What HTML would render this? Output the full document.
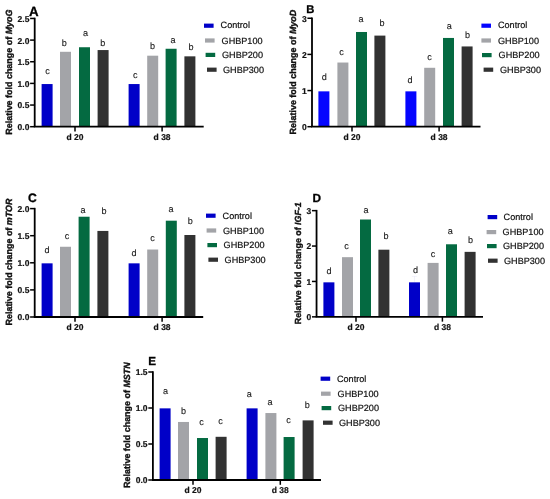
<!DOCTYPE html>
<html lang="en"><head><meta charset="utf-8"><title>Relative fold change of MyoG, MyoD, mTOR, IGF-1 and MSTN</title>
<style>html,body{margin:0;padding:0;background:#fff}body{width:550px;height:499px;overflow:hidden}svg{display:block}</style>
</head><body>
<svg width="550" height="499" viewBox="0 0 550 499" font-family="'Liberation Sans', Arial, sans-serif" text-rendering="geometricPrecision">
<rect width="550" height="499" fill="#fff"/>
<defs><filter id="soft" x="0" y="0" width="100%" height="100%" filterUnits="userSpaceOnUse" color-interpolation-filters="sRGB"><feGaussianBlur stdDeviation="0.35"/></filter></defs>
<g filter="url(#soft)">
<rect width="550" height="499" fill="#fff"/>
<g id="panel-A">
<rect x="41.60" y="84.05" width="11" height="42.65" fill="#0000c8"/>
<rect x="60.00" y="51.79" width="11" height="74.91" fill="#a3a4a8"/>
<rect x="79.00" y="47.24" width="11" height="79.46" fill="#046a41"/>
<rect x="97.60" y="50.06" width="11" height="76.64" fill="#323232"/>
<rect x="128.60" y="84.05" width="11" height="42.65" fill="#0000c8"/>
<rect x="147.20" y="55.69" width="11" height="71.01" fill="#a3a4a8"/>
<rect x="165.60" y="48.76" width="11" height="77.94" fill="#046a41"/>
<rect x="184.40" y="56.34" width="11" height="70.36" fill="#323232"/>
<g stroke="#000" stroke-width="1.8" fill="none" stroke-linecap="butt">
<path d="M34.70 17.70V126.70"/>
<path d="M33.80 126.70H203.70"/>
<path stroke-width="1.5" d="M30.10 126.70H34.70"/>
<path stroke-width="1.5" d="M30.10 105.05H34.70"/>
<path stroke-width="1.5" d="M30.10 83.40H34.70"/>
<path stroke-width="1.5" d="M30.10 61.75H34.70"/>
<path stroke-width="1.5" d="M30.10 40.10H34.70"/>
<path stroke-width="1.5" d="M30.10 18.45H34.70"/>
<path stroke-width="1.5" d="M75.00 126.70V131.50"/>
<path stroke-width="1.5" d="M162.10 126.70V131.50"/>
</g>
<g font-size="8.5" font-weight="bold" fill="#111" stroke="#111" stroke-width="0.2">
<text x="29.40" y="130.10" text-anchor="end">0.0</text>
<text x="29.40" y="108.45" text-anchor="end">0.5</text>
<text x="29.40" y="86.80" text-anchor="end">1.0</text>
<text x="29.40" y="65.15" text-anchor="end">1.5</text>
<text x="29.40" y="43.50" text-anchor="end">2.0</text>
<text x="29.40" y="21.85" text-anchor="end">2.5</text>
<text x="75.00" y="139.60" text-anchor="middle">d 20</text>
<text x="162.10" y="139.60" text-anchor="middle">d 38</text>
</g>
<text transform="translate(11.60 134.70) rotate(-90)" font-size="8.95" font-weight="bold" fill="#111" stroke="#111" stroke-width="0.4">Relative fold change of <tspan font-style="italic">MyoG</tspan></text>
<text x="29.00" y="15.80" font-size="13.3" font-weight="bold" fill="#000" stroke="#000" stroke-width="0.3">A</text>
<g font-size="9.1" fill="#1c1c1c" stroke="#1c1c1c" stroke-width="0.12" text-anchor="middle">
<text x="47.40" y="74.00">c</text>
<text x="64.40" y="45.60">b</text>
<text x="85.60" y="36.00">a</text>
<text x="102.80" y="45.60">b</text>
<text x="135.20" y="77.60">c</text>
<text x="152.60" y="49.20">b</text>
<text x="173.00" y="43.00">a</text>
<text x="191.00" y="50.00">b</text>
</g>
<g font-size="9.1" fill="#111" stroke="#111" stroke-width="0.2">
<rect x="204.00" y="23.60" width="9.6" height="4.2" fill="#0000c8" stroke="none"/>
<text x="220.60" y="28.40">Control</text>
<rect x="205.00" y="38.40" width="9.6" height="4.2" fill="#a3a4a8" stroke="none"/>
<text x="221.60" y="43.60">GHBP100</text>
<rect x="205.60" y="52.80" width="9.6" height="4.2" fill="#046a41" stroke="none"/>
<text x="222.00" y="58.30">GHBP200</text>
<rect x="207.00" y="67.60" width="9.6" height="4.2" fill="#323232" stroke="none"/>
<text x="223.00" y="72.90">GHBP300</text>
</g>
</g>
<g id="panel-B">
<rect x="318.40" y="91.35" width="11" height="35.35" fill="#0505ff"/>
<rect x="337.40" y="62.53" width="11" height="64.17" fill="#a3a4a8"/>
<rect x="356.00" y="31.99" width="11" height="94.71" fill="#046a41"/>
<rect x="374.40" y="35.60" width="11" height="91.10" fill="#323232"/>
<rect x="405.40" y="91.35" width="11" height="35.35" fill="#0505ff"/>
<rect x="424.20" y="67.78" width="11" height="58.92" fill="#a3a4a8"/>
<rect x="443.00" y="37.95" width="11" height="88.75" fill="#046a41"/>
<rect x="461.60" y="46.45" width="11" height="80.25" fill="#323232"/>
<g stroke="#000" stroke-width="1.8" fill="none" stroke-linecap="butt">
<path d="M312.00 17.50V126.70"/>
<path d="M311.10 126.70H480.50"/>
<path stroke-width="1.5" d="M307.40 126.70H312.00"/>
<path stroke-width="1.5" d="M307.40 90.55H312.00"/>
<path stroke-width="1.5" d="M307.40 54.40H312.00"/>
<path stroke-width="1.5" d="M307.40 18.25H312.00"/>
<path stroke-width="1.5" d="M352.00 126.70V131.50"/>
<path stroke-width="1.5" d="M439.10 126.70V131.50"/>
</g>
<g font-size="8.5" font-weight="bold" fill="#111" stroke="#111" stroke-width="0.2">
<text x="306.70" y="130.10" text-anchor="end">0</text>
<text x="306.70" y="93.95" text-anchor="end">1</text>
<text x="306.70" y="57.80" text-anchor="end">2</text>
<text x="306.70" y="21.65" text-anchor="end">3</text>
<text x="352.00" y="139.60" text-anchor="middle">d 20</text>
<text x="439.10" y="139.60" text-anchor="middle">d 38</text>
</g>
<text transform="translate(296.10 134.40) rotate(-90)" font-size="8.95" font-weight="bold" fill="#111" stroke="#111" stroke-width="0.4">Relative fold change of <tspan font-style="italic">MyoD</tspan></text>
<text x="306.30" y="12.70" font-size="11.2" font-weight="bold" fill="#000" stroke="#000" stroke-width="0.3">B</text>
<g font-size="9.1" fill="#1c1c1c" stroke="#1c1c1c" stroke-width="0.12" text-anchor="middle">
<text x="324.40" y="79.60">d</text>
<text x="341.60" y="54.60">c</text>
<text x="361.00" y="22.00">a</text>
<text x="382.00" y="26.40">b</text>
<text x="410.00" y="83.00">d</text>
<text x="429.40" y="59.60">c</text>
<text x="449.40" y="29.40">a</text>
<text x="467.60" y="38.00">b</text>
</g>
<g font-size="9.1" fill="#111" stroke="#111" stroke-width="0.2">
<rect x="481.40" y="23.60" width="9.6" height="4.2" fill="#0505ff" stroke="none"/>
<text x="498.00" y="28.40">Control</text>
<rect x="481.40" y="38.40" width="9.6" height="4.2" fill="#a3a4a8" stroke="none"/>
<text x="498.00" y="43.70">GHBP100</text>
<rect x="482.00" y="53.00" width="9.6" height="4.2" fill="#046a41" stroke="none"/>
<text x="498.60" y="58.30">GHBP200</text>
<rect x="483.60" y="67.60" width="9.6" height="4.2" fill="#323232" stroke="none"/>
<text x="500.00" y="72.80">GHBP300</text>
</g>
</g>
<g id="panel-C">
<rect x="41.60" y="263.34" width="11" height="53.66" fill="#0000c8"/>
<rect x="60.00" y="246.76" width="11" height="70.24" fill="#a3a4a8"/>
<rect x="78.60" y="216.73" width="11" height="100.27" fill="#046a41"/>
<rect x="97.40" y="230.93" width="11" height="86.07" fill="#323232"/>
<rect x="128.60" y="263.34" width="11" height="53.66" fill="#0000c8"/>
<rect x="147.20" y="249.52" width="11" height="67.48" fill="#a3a4a8"/>
<rect x="165.80" y="220.69" width="11" height="96.31" fill="#046a41"/>
<rect x="184.40" y="235.00" width="11" height="82.00" fill="#323232"/>
<g stroke="#000" stroke-width="1.8" fill="none" stroke-linecap="butt">
<path d="M34.70 207.85V317.00"/>
<path d="M33.80 317.00H203.20"/>
<path stroke-width="1.5" d="M30.10 317.00H34.70"/>
<path stroke-width="1.5" d="M30.10 289.90H34.70"/>
<path stroke-width="1.5" d="M30.10 262.80H34.70"/>
<path stroke-width="1.5" d="M30.10 235.70H34.70"/>
<path stroke-width="1.5" d="M30.10 208.60H34.70"/>
<path stroke-width="1.5" d="M75.00 317.00V321.80"/>
<path stroke-width="1.5" d="M162.10 317.00V321.80"/>
</g>
<g font-size="8.5" font-weight="bold" fill="#111" stroke="#111" stroke-width="0.2">
<text x="29.40" y="320.40" text-anchor="end">0.0</text>
<text x="29.40" y="293.30" text-anchor="end">0.5</text>
<text x="29.40" y="266.20" text-anchor="end">1.0</text>
<text x="29.40" y="239.10" text-anchor="end">1.5</text>
<text x="29.40" y="212.00" text-anchor="end">2.0</text>
<text x="75.00" y="330.10" text-anchor="middle">d 20</text>
<text x="162.10" y="330.10" text-anchor="middle">d 38</text>
</g>
<text transform="translate(12.20 325.50) rotate(-90)" font-size="8.95" font-weight="bold" fill="#111" stroke="#111" stroke-width="0.4">Relative fold change of <tspan font-style="italic">mTOR</tspan></text>
<text x="27.95" y="202.30" font-size="12.2" font-weight="bold" fill="#000" stroke="#000" stroke-width="0.3">C</text>
<g font-size="9.1" fill="#1c1c1c" stroke="#1c1c1c" stroke-width="0.12" text-anchor="middle">
<text x="47.00" y="253.00">d</text>
<text x="67.00" y="238.60">c</text>
<text x="83.00" y="212.60">a</text>
<text x="104.00" y="214.00">b</text>
<text x="134.00" y="256.40">d</text>
<text x="152.60" y="240.60">c</text>
<text x="171.00" y="212.40">a</text>
<text x="190.40" y="224.40">b</text>
</g>
<g font-size="9.1" fill="#111" stroke="#111" stroke-width="0.2">
<rect x="206.00" y="213.60" width="9.6" height="4.2" fill="#0000c8" stroke="none"/>
<text x="222.60" y="218.60">Control</text>
<rect x="206.60" y="228.40" width="9.6" height="4.2" fill="#a3a4a8" stroke="none"/>
<text x="223.00" y="233.60">GHBP100</text>
<rect x="207.40" y="243.00" width="9.6" height="4.2" fill="#046a41" stroke="none"/>
<text x="223.60" y="248.40">GHBP200</text>
<rect x="208.40" y="257.60" width="9.6" height="4.2" fill="#323232" stroke="none"/>
<text x="224.60" y="262.60">GHBP300</text>
</g>
</g>
<g id="panel-D">
<rect x="323.40" y="282.34" width="11" height="34.51" fill="#0000c8"/>
<rect x="342.00" y="257.17" width="11" height="59.68" fill="#a3a4a8"/>
<rect x="360.00" y="219.50" width="11" height="97.35" fill="#046a41"/>
<rect x="378.40" y="249.70" width="11" height="67.15" fill="#323232"/>
<rect x="409.00" y="282.34" width="11" height="34.51" fill="#0000c8"/>
<rect x="427.60" y="262.90" width="11" height="53.95" fill="#a3a4a8"/>
<rect x="446.00" y="244.28" width="11" height="72.57" fill="#046a41"/>
<rect x="464.60" y="251.86" width="11" height="64.99" fill="#323232"/>
<path d="M414.5 282.3V276.4M411.9 276.4H417.1" stroke="#0000c8" stroke-opacity="0.08" stroke-width="0.7" fill="none"/>
<g stroke="#000" stroke-width="1.8" fill="none" stroke-linecap="butt">
<path d="M316.55 209.90V316.85"/>
<path d="M315.65 316.85H483.00"/>
<path stroke-width="1.5" d="M311.95 316.85H316.55"/>
<path stroke-width="1.5" d="M311.95 281.45H316.55"/>
<path stroke-width="1.5" d="M311.95 246.05H316.55"/>
<path stroke-width="1.5" d="M311.95 210.65H316.55"/>
<path stroke-width="1.5" d="M356.00 316.85V321.65"/>
<path stroke-width="1.5" d="M442.40 316.85V321.65"/>
</g>
<g font-size="8.5" font-weight="bold" fill="#111" stroke="#111" stroke-width="0.2">
<text x="311.25" y="320.25" text-anchor="end">0</text>
<text x="311.25" y="284.85" text-anchor="end">1</text>
<text x="311.25" y="249.45" text-anchor="end">2</text>
<text x="311.25" y="214.05" text-anchor="end">3</text>
<text x="356.00" y="330.00" text-anchor="middle">d 20</text>
<text x="442.40" y="330.00" text-anchor="middle">d 38</text>
</g>
<text transform="translate(301.10 324.20) rotate(-90)" font-size="8.85" font-weight="bold" fill="#111" stroke="#111" stroke-width="0.4">Relative fold change of <tspan font-style="italic">IGF-1</tspan></text>
<text x="312.50" y="202.40" font-size="11.8" font-weight="bold" fill="#000" stroke="#000" stroke-width="0.3">D</text>
<g font-size="9.1" fill="#1c1c1c" stroke="#1c1c1c" stroke-width="0.12" text-anchor="middle">
<text x="329.00" y="274.00">d</text>
<text x="346.40" y="249.40">c</text>
<text x="366.00" y="212.60">a</text>
<text x="386.00" y="239.00">b</text>
<text x="415.50" y="273.30">d</text>
<text x="433.00" y="257.00">c</text>
<text x="450.40" y="234.40">a</text>
<text x="470.60" y="242.60">b</text>
</g>
<g font-size="9.1" fill="#111" stroke="#111" stroke-width="0.2">
<rect x="487.60" y="215.00" width="9.6" height="4.2" fill="#0000c8" stroke="none"/>
<text x="503.60" y="220.00">Control</text>
<rect x="486.60" y="230.00" width="9.6" height="4.2" fill="#a3a4a8" stroke="none"/>
<text x="502.60" y="235.00">GHBP100</text>
<rect x="487.00" y="244.00" width="9.6" height="4.2" fill="#046a41" stroke="none"/>
<text x="503.00" y="249.40">GHBP200</text>
<rect x="488.00" y="258.60" width="9.6" height="4.2" fill="#323232" stroke="none"/>
<text x="504.00" y="263.60">GHBP300</text>
</g>
</g>
<g id="panel-E">
<rect x="159.60" y="408.36" width="11" height="71.64" fill="#0000c8"/>
<rect x="178.00" y="421.97" width="11" height="58.03" fill="#a3a4a8"/>
<rect x="197.00" y="438.02" width="11" height="41.98" fill="#046a41"/>
<rect x="215.60" y="436.80" width="11" height="43.20" fill="#323232"/>
<rect x="246.60" y="408.36" width="11" height="71.64" fill="#0000c8"/>
<rect x="265.40" y="413.04" width="11" height="66.96" fill="#a3a4a8"/>
<rect x="283.60" y="437.02" width="11" height="42.98" fill="#046a41"/>
<rect x="302.60" y="420.38" width="11" height="59.62" fill="#323232"/>
<g stroke="#000" stroke-width="1.8" fill="none" stroke-linecap="butt">
<path d="M152.90 371.25V480.00"/>
<path d="M152.00 480.00H321.00"/>
<path stroke-width="1.5" d="M148.30 480.00H152.90"/>
<path stroke-width="1.5" d="M148.30 444.00H152.90"/>
<path stroke-width="1.5" d="M148.30 408.00H152.90"/>
<path stroke-width="1.5" d="M148.30 372.00H152.90"/>
<path stroke-width="1.5" d="M193.00 480.00V484.80"/>
<path stroke-width="1.5" d="M280.30 480.00V484.80"/>
</g>
<g font-size="8.5" font-weight="bold" fill="#111" stroke="#111" stroke-width="0.2">
<text x="147.60" y="483.40" text-anchor="end">0.0</text>
<text x="147.60" y="447.40" text-anchor="end">0.5</text>
<text x="147.60" y="411.40" text-anchor="end">1.0</text>
<text x="147.60" y="375.40" text-anchor="end">1.5</text>
<text x="193.00" y="493.00" text-anchor="middle">d 20</text>
<text x="280.30" y="493.00" text-anchor="middle">d 38</text>
</g>
<text transform="translate(129.80 487.90) rotate(-90)" font-size="8.95" font-weight="bold" fill="#111" stroke="#111" stroke-width="0.4">Relative fold change of <tspan font-style="italic">MSTN</tspan></text>
<text x="148.20" y="365.35" font-size="11.7" font-weight="bold" fill="#000" stroke="#000" stroke-width="0.3">E</text>
<g font-size="9.1" fill="#1c1c1c" stroke="#1c1c1c" stroke-width="0.12" text-anchor="middle">
<text x="165.60" y="394.00">a</text>
<text x="183.60" y="414.40">b</text>
<text x="201.60" y="425.00">c</text>
<text x="220.60" y="424.00">c</text>
<text x="249.40" y="397.00">a</text>
<text x="270.00" y="404.60">a</text>
<text x="288.60" y="423.00">c</text>
<text x="307.40" y="407.60">b</text>
</g>
<g font-size="9.1" fill="#111" stroke="#111" stroke-width="0.2">
<rect x="320.60" y="376.60" width="9.6" height="4.2" fill="#0000c8" stroke="none"/>
<text x="337.00" y="382.00">Control</text>
<rect x="321.00" y="391.60" width="9.6" height="4.2" fill="#a3a4a8" stroke="none"/>
<text x="337.60" y="396.60">GHBP100</text>
<rect x="321.60" y="406.00" width="9.6" height="4.2" fill="#046a41" stroke="none"/>
<text x="338.00" y="411.40">GHBP200</text>
<rect x="323.00" y="420.60" width="9.6" height="4.2" fill="#323232" stroke="none"/>
<text x="339.00" y="425.60">GHBP300</text>
</g>
</g>
</g>
</svg>
</body></html>
